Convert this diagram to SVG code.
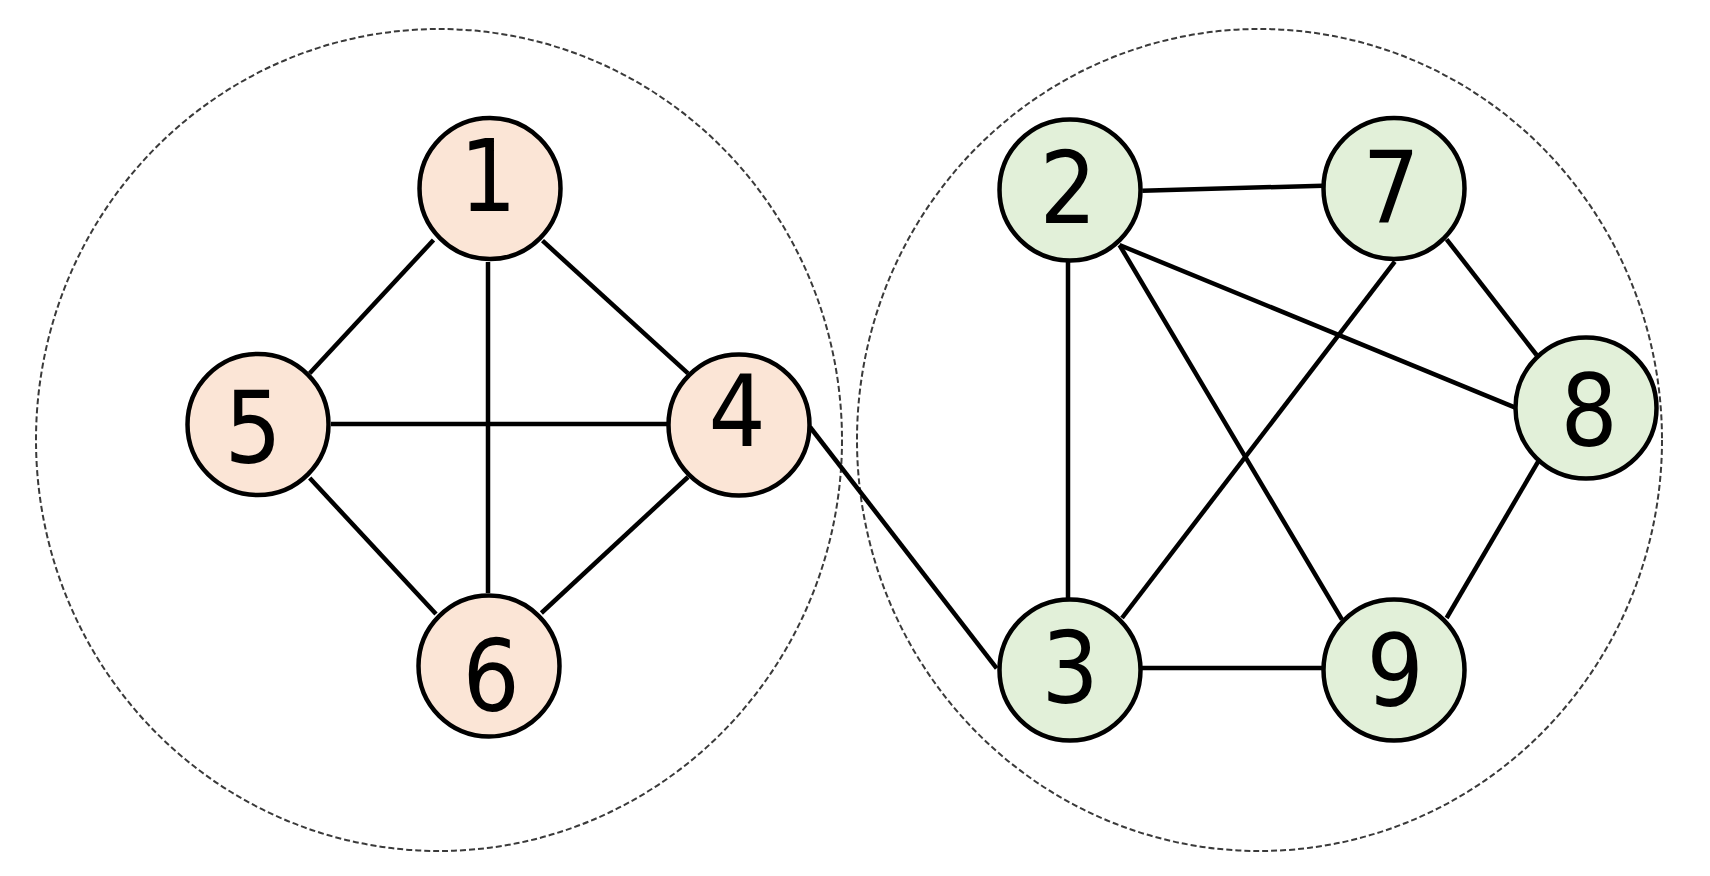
<svg xmlns="http://www.w3.org/2000/svg" width="1710" height="876" viewBox="0 0 1710 876">
<style>
.grp{fill:none;stroke:#3a3a3a;stroke-width:2;stroke-dasharray:6 3}
.edge{stroke:#000;stroke-width:4.5;stroke-linecap:butt;fill:none}
.n circle{stroke:#000;stroke-width:4.5}
.a circle{fill:#FBE5D6}
.b circle{fill:#E2F0D9}
.n text{font-family:"DejaVu Sans Condensed","DejaVu Sans","Liberation Sans",sans-serif;font-stretch:condensed;font-size:100px;fill:#000;text-anchor:middle}
</style>
<rect width="1710" height="876" fill="#fff"/>
<g id="groups">
<ellipse id="group-left" class="grp" cx="439" cy="440" rx="403" ry="411"/>
<ellipse id="group-right" class="grp" cx="1259.5" cy="440" rx="402.5" ry="411"/>
</g>
<g id="connectors">
<line class="edge" x1="433.5" y1="240" x2="309.7" y2="373.3"/>
<line class="edge" x1="542.5" y1="240.7" x2="688" y2="373.3"/>
<line class="edge" x1="488" y1="262" x2="488" y2="593"/>
<line class="edge" x1="331" y1="424" x2="668" y2="424"/>
<line class="edge" x1="309.7" y1="478" x2="436" y2="614"/>
<line class="edge" x1="688" y1="477" x2="541.4" y2="613"/>
<line class="edge" x1="810" y1="427" x2="996.7" y2="668.3"/>
<line class="edge" x1="1142.3" y1="190.7" x2="1322.8" y2="185.7"/>
<line class="edge" x1="1068" y1="262" x2="1068" y2="598"/>
<line class="edge" x1="1119.5" y1="245" x2="1342" y2="619.7"/>
<line class="edge" x1="1119.5" y1="245" x2="1514.7" y2="407.3"/>
<line class="edge" x1="1394.8" y1="261.7" x2="1122" y2="618"/>
<line class="edge" x1="1446.6" y1="239.3" x2="1536.6" y2="355"/>
<line class="edge" x1="1539.3" y1="459.7" x2="1446.6" y2="618"/>
<line class="edge" x1="1142" y1="668" x2="1323" y2="668"/>
</g>
<g id="node-1" class="n a"><circle cx="490" cy="188.5" r="70.5"/><text x="488" y="211">1</text></g>
<g id="node-5" class="n a"><circle cx="258" cy="424.5" r="70.5"/><text x="253" y="463">5</text></g>
<g id="node-4" class="n a"><circle cx="739" cy="425" r="70.5"/><text x="737" y="446">4</text></g>
<g id="node-6" class="n a"><circle cx="489" cy="666" r="70.5"/><text x="491" y="711">6</text></g>
<g id="node-2" class="n b"><circle cx="1070" cy="190" r="70.5"/><text x="1068" y="223">2</text></g>
<g id="node-7" class="n b"><circle cx="1394" cy="188.5" r="70.5"/><text x="1391" y="223">7</text></g>
<g id="node-8" class="n b"><circle cx="1586" cy="408" r="70.5"/><text x="1589" y="446">8</text></g>
<g id="node-3" class="n b"><circle cx="1070" cy="670" r="70.5"/><text x="1070" y="703">3</text></g>
<g id="node-9" class="n b"><circle cx="1394" cy="670" r="70.5"/><text x="1395" y="706">9</text></g>
</svg>
